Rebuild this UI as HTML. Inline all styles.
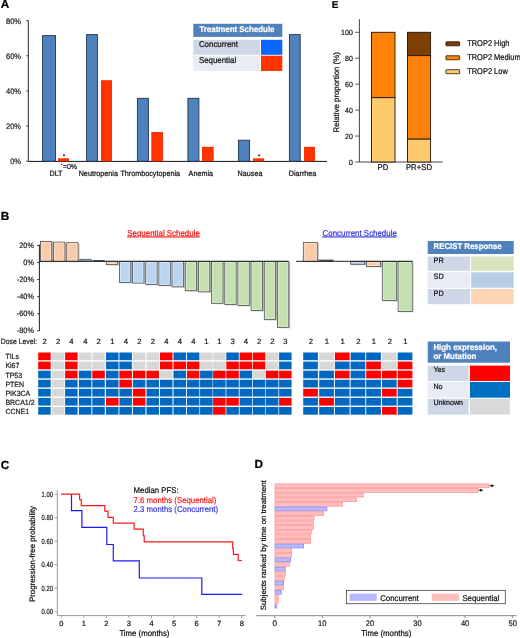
<!DOCTYPE html>
<html><head><meta charset="utf-8"><style>
html,body{margin:0;padding:0;background:#fff;width:520px;height:638px;overflow:hidden;}
svg{display:block;will-change:transform;filter:blur(0.3px);}
text{font-family:"Liberation Sans", sans-serif;text-rendering:geometricPrecision;}
</style></head><body>
<svg width="520" height="638" viewBox="0 0 520 638">
<rect x="0" y="0" width="520" height="638" fill="#fff"/>
<text x="0.80" y="8.00" font-size="11.77" fill="#000" stroke="#000" stroke-width="0.22" font-weight="bold" >A</text>
<line x1="28.30" y1="20.30" x2="28.30" y2="161.40" stroke="#2a2a2a" stroke-width="1.0"/>
<line x1="28.30" y1="161.40" x2="327.00" y2="161.40" stroke="#111" stroke-width="1"/>
<line x1="26.00" y1="20.61" x2="28.30" y2="20.61" stroke="#3a3a3a" stroke-width="0.8"/>
<text x="21.00" y="23.61" font-size="8.03" fill="#222" stroke="#222" stroke-width="0.22" text-anchor="end" textLength="15.01" lengthAdjust="spacingAndGlyphs" >80%</text>
<line x1="26.00" y1="55.77" x2="28.30" y2="55.77" stroke="#3a3a3a" stroke-width="0.8"/>
<text x="21.00" y="58.77" font-size="8.03" fill="#222" stroke="#222" stroke-width="0.22" text-anchor="end" textLength="15.01" lengthAdjust="spacingAndGlyphs" >60%</text>
<line x1="26.00" y1="90.93" x2="28.30" y2="90.93" stroke="#3a3a3a" stroke-width="0.8"/>
<text x="21.00" y="93.93" font-size="8.03" fill="#222" stroke="#222" stroke-width="0.22" text-anchor="end" textLength="15.01" lengthAdjust="spacingAndGlyphs" >40%</text>
<line x1="26.00" y1="126.09" x2="28.30" y2="126.09" stroke="#3a3a3a" stroke-width="0.8"/>
<text x="21.00" y="129.09" font-size="8.03" fill="#222" stroke="#222" stroke-width="0.22" text-anchor="end" textLength="15.01" lengthAdjust="spacingAndGlyphs" >20%</text>
<line x1="26.00" y1="161.25" x2="28.30" y2="161.25" stroke="#3a3a3a" stroke-width="0.8"/>
<text x="21.00" y="164.25" font-size="8.03" fill="#222" stroke="#222" stroke-width="0.22" text-anchor="end" textLength="10.84" lengthAdjust="spacingAndGlyphs" >0%</text>
<rect x="42.60" y="35.60" width="12.90" height="125.65" fill="#4F81BD" stroke="#1f3550" stroke-width="0.9" />
<rect x="86.60" y="34.60" width="10.80" height="126.65" fill="#4F81BD" stroke="#1f3550" stroke-width="0.9" />
<rect x="137.40" y="98.30" width="11.00" height="62.95" fill="#4F81BD" stroke="#1f3550" stroke-width="0.9" />
<rect x="187.90" y="98.30" width="11.00" height="62.95" fill="#4F81BD" stroke="#1f3550" stroke-width="0.9" />
<rect x="238.40" y="140.20" width="11.20" height="21.05" fill="#4F81BD" stroke="#1f3550" stroke-width="0.9" />
<rect x="289.40" y="34.60" width="10.80" height="126.65" fill="#4F81BD" stroke="#1f3550" stroke-width="0.9" />
<rect x="58.00" y="158.20" width="11.00" height="3.05" fill="#FF3300" />
<rect x="100.90" y="80.20" width="11.10" height="81.05" fill="#FF3300" />
<rect x="151.30" y="132.00" width="11.70" height="29.25" fill="#FF3300" />
<rect x="202.00" y="146.80" width="11.70" height="14.45" fill="#FF3300" />
<rect x="253.00" y="158.30" width="11.00" height="2.95" fill="#FF3300" />
<rect x="304.00" y="146.80" width="11.00" height="14.45" fill="#FF3300" />
<circle cx="64" cy="155.2" r="0.95" fill="#111"/>
<circle cx="259.2" cy="155.4" r="0.95" fill="#111"/>
<circle cx="61.6" cy="164.5" r="0.75" fill="#222"/>
<text x="62.90" y="168.80" font-size="7.49" fill="#222" stroke="#222" stroke-width="0.22" textLength="14.21" lengthAdjust="spacingAndGlyphs" >=0%</text>
<text x="56.00" y="176.20" font-size="7.70" fill="#111" stroke="#111" stroke-width="0.22" text-anchor="middle" textLength="13.07" lengthAdjust="spacingAndGlyphs" >DLT</text>
<text x="98.30" y="176.20" font-size="7.70" fill="#111" stroke="#111" stroke-width="0.22" text-anchor="middle" textLength="39.23" lengthAdjust="spacingAndGlyphs" >Neutropenia</text>
<text x="150.20" y="176.20" font-size="7.70" fill="#111" stroke="#111" stroke-width="0.22" text-anchor="middle" textLength="59.63" lengthAdjust="spacingAndGlyphs" >Thrombocytopenia</text>
<text x="200.80" y="176.20" font-size="7.70" fill="#111" stroke="#111" stroke-width="0.22" text-anchor="middle" textLength="24.41" lengthAdjust="spacingAndGlyphs" >Anemia</text>
<text x="250.00" y="176.20" font-size="7.70" fill="#111" stroke="#111" stroke-width="0.22" text-anchor="middle" textLength="24.82" lengthAdjust="spacingAndGlyphs" >Nausea</text>
<text x="302.50" y="176.20" font-size="7.70" fill="#111" stroke="#111" stroke-width="0.22" text-anchor="middle" textLength="27.61" lengthAdjust="spacingAndGlyphs" >Diarrhea</text>
<rect x="193.30" y="23.80" width="89.00" height="13.10" fill="#4F81BD" />
<text x="199.40" y="32.10" font-size="8.45" fill="#fff" stroke="#fff" stroke-width="0.22" font-weight="bold" textLength="75.08" lengthAdjust="spacingAndGlyphs" >Treatment Schedule</text>
<rect x="193.30" y="39.80" width="66.60" height="15.00" fill="#CFD7E6" />
<rect x="261.00" y="39.80" width="21.30" height="15.00" fill="#0B66FF" />
<rect x="193.30" y="55.70" width="66.60" height="15.30" fill="#E8ECF4" />
<rect x="261.00" y="55.70" width="21.30" height="15.30" fill="#FF3300" />
<text x="198.90" y="46.90" font-size="8.45" fill="#111" stroke="#111" stroke-width="0.22" textLength="39.08" lengthAdjust="spacingAndGlyphs" >Concurrent</text>
<text x="198.90" y="63.40" font-size="8.45" fill="#111" stroke="#111" stroke-width="0.22" textLength="37.34" lengthAdjust="spacingAndGlyphs" >Sequential</text>
<text x="331.80" y="8.20" font-size="9.95" fill="#000" stroke="#000" stroke-width="0.22" font-weight="bold" >E</text>
<line x1="359.40" y1="19.20" x2="359.40" y2="162.00" stroke="#444" stroke-width="1"/>
<line x1="359.40" y1="162.00" x2="442.70" y2="162.00" stroke="#444" stroke-width="1"/>
<line x1="355.20" y1="162.00" x2="359.40" y2="162.00" stroke="#444" stroke-width="0.9"/>
<text x="352.80" y="164.50" font-size="7.49" fill="#222" stroke="#222" stroke-width="0.22" text-anchor="end" >0</text>
<line x1="355.20" y1="136.06" x2="359.40" y2="136.06" stroke="#444" stroke-width="0.9"/>
<text x="352.80" y="138.56" font-size="7.49" fill="#222" stroke="#222" stroke-width="0.22" text-anchor="end" textLength="7.79" lengthAdjust="spacingAndGlyphs" >20</text>
<line x1="355.20" y1="110.12" x2="359.40" y2="110.12" stroke="#444" stroke-width="0.9"/>
<text x="352.80" y="112.62" font-size="7.49" fill="#222" stroke="#222" stroke-width="0.22" text-anchor="end" textLength="7.79" lengthAdjust="spacingAndGlyphs" >40</text>
<line x1="355.20" y1="84.18" x2="359.40" y2="84.18" stroke="#444" stroke-width="0.9"/>
<text x="352.80" y="86.68" font-size="7.49" fill="#222" stroke="#222" stroke-width="0.22" text-anchor="end" textLength="7.79" lengthAdjust="spacingAndGlyphs" >60</text>
<line x1="355.20" y1="58.24" x2="359.40" y2="58.24" stroke="#444" stroke-width="0.9"/>
<text x="352.80" y="60.74" font-size="7.49" fill="#222" stroke="#222" stroke-width="0.22" text-anchor="end" textLength="7.79" lengthAdjust="spacingAndGlyphs" >80</text>
<line x1="355.20" y1="32.30" x2="359.40" y2="32.30" stroke="#444" stroke-width="0.9"/>
<text x="352.80" y="34.80" font-size="7.49" fill="#222" stroke="#222" stroke-width="0.22" text-anchor="end" textLength="11.68" lengthAdjust="spacingAndGlyphs" >100</text>
<rect x="371.50" y="32.30" width="23.50" height="65.40" fill="#FF8208" stroke="#1e1408" stroke-width="0.9" />
<rect x="371.50" y="97.70" width="23.50" height="64.30" fill="#FDCB6E" stroke="#1e1408" stroke-width="0.9" />
<rect x="407.50" y="32.30" width="23.10" height="23.35" fill="#7F3F02" stroke="#1e1408" stroke-width="0.9" />
<rect x="407.50" y="55.65" width="23.10" height="83.53" fill="#FF8208" stroke="#1e1408" stroke-width="0.9" />
<rect x="407.50" y="139.17" width="23.10" height="22.83" fill="#FDCB6E" stroke="#1e1408" stroke-width="0.9" />
<text x="383.00" y="170.20" font-size="8.35" fill="#111" stroke="#111" stroke-width="0.22" text-anchor="middle" textLength="10.84" lengthAdjust="spacingAndGlyphs" >PD</text>
<text x="419.00" y="170.20" font-size="8.35" fill="#111" stroke="#111" stroke-width="0.22" text-anchor="middle" textLength="26.23" lengthAdjust="spacingAndGlyphs" >PR+SD</text>
<rect x="445.90" y="41.80" width="13.80" height="4.00" fill="#7F3F02" stroke="#1e1408" stroke-width="0.8" rx="0.6"/>
<text x="467.20" y="46.40" font-size="8.45" fill="#111" stroke="#111" stroke-width="0.22" textLength="42.23" lengthAdjust="spacingAndGlyphs" >TROP2 High</text>
<rect x="445.90" y="55.75" width="13.80" height="4.00" fill="#FF8208" stroke="#1e1408" stroke-width="0.8" rx="0.6"/>
<text x="467.20" y="60.35" font-size="8.45" fill="#111" stroke="#111" stroke-width="0.22" textLength="53.41" lengthAdjust="spacingAndGlyphs" >TROP2 Medium</text>
<rect x="445.90" y="69.70" width="13.80" height="4.00" fill="#FDCB6E" stroke="#1e1408" stroke-width="0.8" rx="0.6"/>
<text x="467.20" y="74.30" font-size="8.45" fill="#111" stroke="#111" stroke-width="0.22" textLength="40.58" lengthAdjust="spacingAndGlyphs" >TROP2 Low</text>
<text transform="translate(339.3,92.4) rotate(-90)" font-size="8.0" fill="#111" stroke="#111" stroke-width="0.22" text-anchor="middle" textLength="80.3" lengthAdjust="spacingAndGlyphs">Relative proportion (%)</text>
<text x="0.80" y="220.20" font-size="11.77" fill="#000" stroke="#000" stroke-width="0.22" font-weight="bold" >B</text>
<text x="127.30" y="235.50" font-size="8.45" fill="#FF1010" stroke="#FF1010" stroke-width="0.22" textLength="72.48" lengthAdjust="spacingAndGlyphs" text-decoration="underline">Sequential Schedule</text>
<text x="322.60" y="235.50" font-size="8.45" fill="#3535E0" stroke="#3535E0" stroke-width="0.22" textLength="74.22" lengthAdjust="spacingAndGlyphs" text-decoration="underline">Concurrent Schedule</text>
<line x1="39.40" y1="244.60" x2="39.40" y2="331.00" stroke="#222" stroke-width="1"/>
<line x1="37.20" y1="245.40" x2="39.40" y2="245.40" stroke="#222" stroke-width="0.9"/>
<text x="33.90" y="247.90" font-size="7.81" fill="#222" stroke="#222" stroke-width="0.22" text-anchor="end" textLength="14.61" lengthAdjust="spacingAndGlyphs" >20%</text>
<line x1="37.20" y1="262.48" x2="39.40" y2="262.48" stroke="#222" stroke-width="0.9"/>
<text x="33.90" y="264.98" font-size="7.81" fill="#222" stroke="#222" stroke-width="0.22" text-anchor="end" textLength="10.55" lengthAdjust="spacingAndGlyphs" >0%</text>
<line x1="37.20" y1="279.56" x2="39.40" y2="279.56" stroke="#222" stroke-width="0.9"/>
<text x="33.90" y="282.06" font-size="7.81" fill="#222" stroke="#222" stroke-width="0.22" text-anchor="end" textLength="17.04" lengthAdjust="spacingAndGlyphs" >-20%</text>
<line x1="37.20" y1="296.64" x2="39.40" y2="296.64" stroke="#222" stroke-width="0.9"/>
<text x="33.90" y="299.14" font-size="7.81" fill="#222" stroke="#222" stroke-width="0.22" text-anchor="end" textLength="17.04" lengthAdjust="spacingAndGlyphs" >-40%</text>
<line x1="37.20" y1="313.72" x2="39.40" y2="313.72" stroke="#222" stroke-width="0.9"/>
<text x="33.90" y="316.22" font-size="7.81" fill="#222" stroke="#222" stroke-width="0.22" text-anchor="end" textLength="17.04" lengthAdjust="spacingAndGlyphs" >-60%</text>
<line x1="37.20" y1="330.80" x2="39.40" y2="330.80" stroke="#222" stroke-width="0.9"/>
<text x="33.90" y="333.30" font-size="7.81" fill="#222" stroke="#222" stroke-width="0.22" text-anchor="end" textLength="17.04" lengthAdjust="spacingAndGlyphs" >-80%</text>
<rect x="52.00" y="242.30" width="1.10" height="19.90" fill="#b4b4b4" />
<rect x="41.20" y="261.60" width="11.90" height="0.60" fill="#c8c8c8" />
<rect x="40.40" y="241.50" width="11.30" height="19.80" fill="#F9CBAA" stroke="#4a4f56" stroke-width="0.8" />
<rect x="41.40" y="242.50" width="9.30" height="17.80" fill="none" stroke="#FDE0CC" stroke-width="0.7"/>
<rect x="65.17" y="242.90" width="1.10" height="19.30" fill="#b4b4b4" />
<rect x="54.37" y="261.60" width="11.90" height="0.60" fill="#c8c8c8" />
<rect x="53.57" y="242.10" width="11.30" height="19.20" fill="#F9CBAA" stroke="#4a4f56" stroke-width="0.8" />
<rect x="54.57" y="243.10" width="9.30" height="17.20" fill="none" stroke="#FDE0CC" stroke-width="0.7"/>
<rect x="78.34" y="243.50" width="1.10" height="18.70" fill="#b4b4b4" />
<rect x="67.54" y="261.60" width="11.90" height="0.60" fill="#c8c8c8" />
<rect x="66.74" y="242.70" width="11.30" height="18.60" fill="#F9CBAA" stroke="#4a4f56" stroke-width="0.8" />
<rect x="67.74" y="243.70" width="9.30" height="16.60" fill="none" stroke="#FDE0CC" stroke-width="0.7"/>
<rect x="79.91" y="259.30" width="11.30" height="2.00" fill="#9FB8D6" stroke="#4a4f56" stroke-width="0.8" />
<rect x="93.08" y="260.40" width="11.30" height="0.90" fill="#333" stroke="#4a4f56" stroke-width="0.8" />
<rect x="117.85" y="262.10" width="1.10" height="3.40" fill="#b4b4b4" />
<rect x="107.05" y="264.90" width="11.90" height="0.60" fill="#c8c8c8" />
<rect x="106.25" y="261.30" width="11.30" height="3.30" fill="#F9CBAA" stroke="#4a4f56" stroke-width="0.8" />
<rect x="107.25" y="262.30" width="9.30" height="1.30" fill="none" stroke="#FDE0CC" stroke-width="0.7"/>
<rect x="131.02" y="262.10" width="1.10" height="21.20" fill="#b4b4b4" />
<rect x="120.22" y="282.70" width="11.90" height="0.60" fill="#c8c8c8" />
<rect x="119.42" y="261.30" width="11.30" height="21.10" fill="#BCD4EE" stroke="#4a4f56" stroke-width="0.8" />
<rect x="120.42" y="262.30" width="9.30" height="19.10" fill="none" stroke="#D8EAFA" stroke-width="0.7"/>
<rect x="144.19" y="262.10" width="1.10" height="21.80" fill="#b4b4b4" />
<rect x="133.39" y="283.30" width="11.90" height="0.60" fill="#c8c8c8" />
<rect x="132.59" y="261.30" width="11.30" height="21.70" fill="#BCD4EE" stroke="#4a4f56" stroke-width="0.8" />
<rect x="133.59" y="262.30" width="9.30" height="19.70" fill="none" stroke="#D8EAFA" stroke-width="0.7"/>
<rect x="157.36" y="262.10" width="1.10" height="23.30" fill="#b4b4b4" />
<rect x="146.56" y="284.80" width="11.90" height="0.60" fill="#c8c8c8" />
<rect x="145.76" y="261.30" width="11.30" height="23.20" fill="#BCD4EE" stroke="#4a4f56" stroke-width="0.8" />
<rect x="146.76" y="262.30" width="9.30" height="21.20" fill="none" stroke="#D8EAFA" stroke-width="0.7"/>
<rect x="170.53" y="262.10" width="1.10" height="24.20" fill="#b4b4b4" />
<rect x="159.73" y="285.70" width="11.90" height="0.60" fill="#c8c8c8" />
<rect x="158.93" y="261.30" width="11.30" height="24.10" fill="#BCD4EE" stroke="#4a4f56" stroke-width="0.8" />
<rect x="159.93" y="262.30" width="9.30" height="22.10" fill="none" stroke="#D8EAFA" stroke-width="0.7"/>
<rect x="183.70" y="262.10" width="1.10" height="25.60" fill="#b4b4b4" />
<rect x="172.90" y="287.10" width="11.90" height="0.60" fill="#c8c8c8" />
<rect x="172.10" y="261.30" width="11.30" height="25.50" fill="#BCD4EE" stroke="#4a4f56" stroke-width="0.8" />
<rect x="173.10" y="262.30" width="9.30" height="23.50" fill="none" stroke="#D8EAFA" stroke-width="0.7"/>
<rect x="196.87" y="262.10" width="1.10" height="29.50" fill="#b4b4b4" />
<rect x="186.07" y="291.00" width="11.90" height="0.60" fill="#c8c8c8" />
<rect x="185.27" y="261.30" width="11.30" height="29.40" fill="#C4DFB0" stroke="#4a4f56" stroke-width="0.8" />
<rect x="186.27" y="262.30" width="9.30" height="27.40" fill="none" stroke="#DAEECB" stroke-width="0.7"/>
<rect x="210.04" y="262.10" width="1.10" height="30.60" fill="#b4b4b4" />
<rect x="199.24" y="292.10" width="11.90" height="0.60" fill="#c8c8c8" />
<rect x="198.44" y="261.30" width="11.30" height="30.50" fill="#C4DFB0" stroke="#4a4f56" stroke-width="0.8" />
<rect x="199.44" y="262.30" width="9.30" height="28.50" fill="none" stroke="#DAEECB" stroke-width="0.7"/>
<rect x="223.21" y="262.10" width="1.10" height="42.10" fill="#b4b4b4" />
<rect x="212.41" y="303.60" width="11.90" height="0.60" fill="#c8c8c8" />
<rect x="211.61" y="261.30" width="11.30" height="42.00" fill="#C4DFB0" stroke="#4a4f56" stroke-width="0.8" />
<rect x="212.61" y="262.30" width="9.30" height="40.00" fill="none" stroke="#DAEECB" stroke-width="0.7"/>
<rect x="236.38" y="262.10" width="1.10" height="43.30" fill="#b4b4b4" />
<rect x="225.58" y="304.80" width="11.90" height="0.60" fill="#c8c8c8" />
<rect x="224.78" y="261.30" width="11.30" height="43.20" fill="#C4DFB0" stroke="#4a4f56" stroke-width="0.8" />
<rect x="225.78" y="262.30" width="9.30" height="41.20" fill="none" stroke="#DAEECB" stroke-width="0.7"/>
<rect x="249.55" y="262.10" width="1.10" height="44.30" fill="#b4b4b4" />
<rect x="238.75" y="305.80" width="11.90" height="0.60" fill="#c8c8c8" />
<rect x="237.95" y="261.30" width="11.30" height="44.20" fill="#C4DFB0" stroke="#4a4f56" stroke-width="0.8" />
<rect x="238.95" y="262.30" width="9.30" height="42.20" fill="none" stroke="#DAEECB" stroke-width="0.7"/>
<rect x="262.72" y="262.10" width="1.10" height="49.30" fill="#b4b4b4" />
<rect x="251.92" y="310.80" width="11.90" height="0.60" fill="#c8c8c8" />
<rect x="251.12" y="261.30" width="11.30" height="49.20" fill="#C4DFB0" stroke="#4a4f56" stroke-width="0.8" />
<rect x="252.12" y="262.30" width="9.30" height="47.20" fill="none" stroke="#DAEECB" stroke-width="0.7"/>
<rect x="275.89" y="262.10" width="1.10" height="58.40" fill="#b4b4b4" />
<rect x="265.09" y="319.90" width="11.90" height="0.60" fill="#c8c8c8" />
<rect x="264.29" y="261.30" width="11.30" height="58.30" fill="#C4DFB0" stroke="#4a4f56" stroke-width="0.8" />
<rect x="265.29" y="262.30" width="9.30" height="56.30" fill="none" stroke="#DAEECB" stroke-width="0.7"/>
<rect x="289.06" y="262.10" width="1.10" height="66.20" fill="#b4b4b4" />
<rect x="278.26" y="327.70" width="11.90" height="0.60" fill="#c8c8c8" />
<rect x="277.46" y="261.30" width="11.30" height="66.10" fill="#C4DFB0" stroke="#4a4f56" stroke-width="0.8" />
<rect x="278.46" y="262.30" width="9.30" height="64.10" fill="none" stroke="#DAEECB" stroke-width="0.7"/>
<line x1="39.40" y1="261.30" x2="288.20" y2="261.30" stroke="#222" stroke-width="1"/>
<rect x="317.60" y="243.30" width="1.10" height="18.90" fill="#b4b4b4" />
<rect x="304.10" y="261.60" width="14.60" height="0.60" fill="#c8c8c8" />
<rect x="303.30" y="242.50" width="14.00" height="18.80" fill="#F9CBAA" stroke="#4a4f56" stroke-width="0.8" />
<rect x="304.30" y="243.50" width="12.00" height="16.80" fill="none" stroke="#FDE0CC" stroke-width="0.7"/>
<rect x="319.10" y="260.00" width="14.00" height="1.30" fill="#8a5a3a" stroke="#4a4f56" stroke-width="0.8" />
<rect x="365.00" y="262.10" width="1.10" height="3.10" fill="#b4b4b4" />
<rect x="351.50" y="264.60" width="14.60" height="0.60" fill="#c8c8c8" />
<rect x="350.70" y="261.30" width="14.00" height="3.00" fill="#BCD4EE" stroke="#4a4f56" stroke-width="0.8" />
<rect x="380.80" y="262.10" width="1.10" height="5.30" fill="#b4b4b4" />
<rect x="367.30" y="266.80" width="14.60" height="0.60" fill="#c8c8c8" />
<rect x="366.50" y="261.30" width="14.00" height="5.20" fill="#F9CBAA" stroke="#4a4f56" stroke-width="0.8" />
<rect x="367.50" y="262.30" width="12.00" height="3.20" fill="none" stroke="#FDE0CC" stroke-width="0.7"/>
<rect x="396.60" y="262.10" width="1.10" height="39.30" fill="#b4b4b4" />
<rect x="383.10" y="300.80" width="14.60" height="0.60" fill="#c8c8c8" />
<rect x="382.30" y="261.30" width="14.00" height="39.20" fill="#C4DFB0" stroke="#4a4f56" stroke-width="0.8" />
<rect x="383.30" y="262.30" width="12.00" height="37.20" fill="none" stroke="#DAEECB" stroke-width="0.7"/>
<rect x="412.40" y="262.10" width="1.10" height="50.20" fill="#b4b4b4" />
<rect x="398.90" y="311.70" width="14.60" height="0.60" fill="#c8c8c8" />
<rect x="398.10" y="261.30" width="14.00" height="50.10" fill="#C4DFB0" stroke="#4a4f56" stroke-width="0.8" />
<rect x="399.10" y="262.30" width="12.00" height="48.10" fill="none" stroke="#DAEECB" stroke-width="0.7"/>
<line x1="296.10" y1="261.30" x2="412.40" y2="261.30" stroke="#222" stroke-width="1"/>
<text x="0.80" y="344.40" font-size="7.70" fill="#222" stroke="#222" stroke-width="0.22" textLength="36.20" lengthAdjust="spacingAndGlyphs" >Dose Level:</text>
<text x="44.60" y="344.40" font-size="7.70" fill="#222" stroke="#222" stroke-width="0.22" text-anchor="middle" >2</text>
<text x="58.20" y="344.40" font-size="7.70" fill="#222" stroke="#222" stroke-width="0.22" text-anchor="middle" >2</text>
<text x="71.50" y="344.40" font-size="7.70" fill="#222" stroke="#222" stroke-width="0.22" text-anchor="middle" >4</text>
<text x="85.30" y="344.40" font-size="7.70" fill="#222" stroke="#222" stroke-width="0.22" text-anchor="middle" >4</text>
<text x="98.70" y="344.40" font-size="7.70" fill="#222" stroke="#222" stroke-width="0.22" text-anchor="middle" >2</text>
<text x="112.40" y="344.40" font-size="7.70" fill="#222" stroke="#222" stroke-width="0.22" text-anchor="middle" >1</text>
<text x="125.80" y="344.40" font-size="7.70" fill="#222" stroke="#222" stroke-width="0.22" text-anchor="middle" >4</text>
<text x="139.30" y="344.40" font-size="7.70" fill="#222" stroke="#222" stroke-width="0.22" text-anchor="middle" >2</text>
<text x="152.90" y="344.40" font-size="7.70" fill="#222" stroke="#222" stroke-width="0.22" text-anchor="middle" >2</text>
<text x="166.40" y="344.40" font-size="7.70" fill="#222" stroke="#222" stroke-width="0.22" text-anchor="middle" >4</text>
<text x="179.90" y="344.40" font-size="7.70" fill="#222" stroke="#222" stroke-width="0.22" text-anchor="middle" >4</text>
<text x="193.30" y="344.40" font-size="7.70" fill="#222" stroke="#222" stroke-width="0.22" text-anchor="middle" >4</text>
<text x="206.50" y="344.40" font-size="7.70" fill="#222" stroke="#222" stroke-width="0.22" text-anchor="middle" >1</text>
<text x="219.50" y="344.40" font-size="7.70" fill="#222" stroke="#222" stroke-width="0.22" text-anchor="middle" >1</text>
<text x="232.70" y="344.40" font-size="7.70" fill="#222" stroke="#222" stroke-width="0.22" text-anchor="middle" >3</text>
<text x="246.00" y="344.40" font-size="7.70" fill="#222" stroke="#222" stroke-width="0.22" text-anchor="middle" >4</text>
<text x="259.20" y="344.40" font-size="7.70" fill="#222" stroke="#222" stroke-width="0.22" text-anchor="middle" >2</text>
<text x="272.30" y="344.40" font-size="7.70" fill="#222" stroke="#222" stroke-width="0.22" text-anchor="middle" >2</text>
<text x="285.50" y="344.40" font-size="7.70" fill="#222" stroke="#222" stroke-width="0.22" text-anchor="middle" >3</text>
<text x="311.00" y="344.40" font-size="7.70" fill="#222" stroke="#222" stroke-width="0.22" text-anchor="middle" >2</text>
<text x="327.00" y="344.40" font-size="7.70" fill="#222" stroke="#222" stroke-width="0.22" text-anchor="middle" >1</text>
<text x="342.70" y="344.40" font-size="7.70" fill="#222" stroke="#222" stroke-width="0.22" text-anchor="middle" >1</text>
<text x="358.40" y="344.40" font-size="7.70" fill="#222" stroke="#222" stroke-width="0.22" text-anchor="middle" >2</text>
<text x="374.00" y="344.40" font-size="7.70" fill="#222" stroke="#222" stroke-width="0.22" text-anchor="middle" >1</text>
<text x="389.80" y="344.40" font-size="7.70" fill="#222" stroke="#222" stroke-width="0.22" text-anchor="middle" >2</text>
<text x="405.50" y="344.40" font-size="7.70" fill="#222" stroke="#222" stroke-width="0.22" text-anchor="middle" >1</text>
<rect x="38.20" y="352.50" width="12.50" height="7.70" fill="#FF0000" />
<rect x="38.20" y="361.58" width="12.50" height="7.70" fill="#FF0000" />
<rect x="38.20" y="370.66" width="12.50" height="7.70" fill="#0068C0" />
<rect x="38.20" y="379.74" width="12.50" height="7.70" fill="#0068C0" />
<rect x="38.20" y="388.82" width="12.50" height="7.70" fill="#0068C0" />
<rect x="38.20" y="397.90" width="12.50" height="7.70" fill="#0068C0" />
<rect x="38.20" y="406.98" width="12.50" height="7.70" fill="#0068C0" />
<rect x="51.80" y="352.50" width="12.50" height="7.70" fill="#D7D7D7" />
<rect x="51.80" y="361.58" width="12.50" height="7.70" fill="#D7D7D7" />
<rect x="51.80" y="370.66" width="12.50" height="7.70" fill="#D7D7D7" />
<rect x="51.80" y="379.74" width="12.50" height="7.70" fill="#D7D7D7" />
<rect x="51.80" y="388.82" width="12.50" height="7.70" fill="#D7D7D7" />
<rect x="51.80" y="397.90" width="12.50" height="7.70" fill="#D7D7D7" />
<rect x="51.80" y="406.98" width="12.50" height="7.70" fill="#D7D7D7" />
<rect x="65.10" y="352.50" width="12.50" height="7.70" fill="#FF0000" />
<rect x="65.10" y="361.58" width="12.50" height="7.70" fill="#FF0000" />
<rect x="65.10" y="370.66" width="12.50" height="7.70" fill="#FF0000" />
<rect x="65.10" y="379.74" width="12.50" height="7.70" fill="#0068C0" />
<rect x="65.10" y="388.82" width="12.50" height="7.70" fill="#0068C0" />
<rect x="65.10" y="397.90" width="12.50" height="7.70" fill="#0068C0" />
<rect x="65.10" y="406.98" width="12.50" height="7.70" fill="#0068C0" />
<rect x="78.90" y="352.50" width="12.50" height="7.70" fill="#D7D7D7" />
<rect x="78.90" y="361.58" width="12.50" height="7.70" fill="#D7D7D7" />
<rect x="78.90" y="370.66" width="12.50" height="7.70" fill="#0068C0" />
<rect x="78.90" y="379.74" width="12.50" height="7.70" fill="#0068C0" />
<rect x="78.90" y="388.82" width="12.50" height="7.70" fill="#0068C0" />
<rect x="78.90" y="397.90" width="12.50" height="7.70" fill="#0068C0" />
<rect x="78.90" y="406.98" width="12.50" height="7.70" fill="#0068C0" />
<rect x="92.30" y="352.50" width="12.50" height="7.70" fill="#D7D7D7" />
<rect x="92.30" y="361.58" width="12.50" height="7.70" fill="#D7D7D7" />
<rect x="92.30" y="370.66" width="12.50" height="7.70" fill="#FF0000" />
<rect x="92.30" y="379.74" width="12.50" height="7.70" fill="#0068C0" />
<rect x="92.30" y="388.82" width="12.50" height="7.70" fill="#0068C0" />
<rect x="92.30" y="397.90" width="12.50" height="7.70" fill="#0068C0" />
<rect x="92.30" y="406.98" width="12.50" height="7.70" fill="#0068C0" />
<rect x="106.00" y="352.50" width="12.50" height="7.70" fill="#0068C0" />
<rect x="106.00" y="361.58" width="12.50" height="7.70" fill="#0068C0" />
<rect x="106.00" y="370.66" width="12.50" height="7.70" fill="#0068C0" />
<rect x="106.00" y="379.74" width="12.50" height="7.70" fill="#0068C0" />
<rect x="106.00" y="388.82" width="12.50" height="7.70" fill="#0068C0" />
<rect x="106.00" y="397.90" width="12.50" height="7.70" fill="#FF0000" />
<rect x="106.00" y="406.98" width="12.50" height="7.70" fill="#0068C0" />
<rect x="119.40" y="352.50" width="12.50" height="7.70" fill="#0068C0" />
<rect x="119.40" y="361.58" width="12.50" height="7.70" fill="#0068C0" />
<rect x="119.40" y="370.66" width="12.50" height="7.70" fill="#FF0000" />
<rect x="119.40" y="379.74" width="12.50" height="7.70" fill="#FF0000" />
<rect x="119.40" y="388.82" width="12.50" height="7.70" fill="#0068C0" />
<rect x="119.40" y="397.90" width="12.50" height="7.70" fill="#0068C0" />
<rect x="119.40" y="406.98" width="12.50" height="7.70" fill="#0068C0" />
<rect x="132.90" y="352.50" width="12.50" height="7.70" fill="#D7D7D7" />
<rect x="132.90" y="361.58" width="12.50" height="7.70" fill="#D7D7D7" />
<rect x="132.90" y="370.66" width="12.50" height="7.70" fill="#FF0000" />
<rect x="132.90" y="379.74" width="12.50" height="7.70" fill="#0068C0" />
<rect x="132.90" y="388.82" width="12.50" height="7.70" fill="#FF0000" />
<rect x="132.90" y="397.90" width="12.50" height="7.70" fill="#FF0000" />
<rect x="132.90" y="406.98" width="12.50" height="7.70" fill="#0068C0" />
<rect x="146.50" y="352.50" width="12.50" height="7.70" fill="#D7D7D7" />
<rect x="146.50" y="361.58" width="12.50" height="7.70" fill="#D7D7D7" />
<rect x="146.50" y="370.66" width="12.50" height="7.70" fill="#FF0000" />
<rect x="146.50" y="379.74" width="12.50" height="7.70" fill="#0068C0" />
<rect x="146.50" y="388.82" width="12.50" height="7.70" fill="#0068C0" />
<rect x="146.50" y="397.90" width="12.50" height="7.70" fill="#0068C0" />
<rect x="146.50" y="406.98" width="12.50" height="7.70" fill="#0068C0" />
<rect x="160.00" y="352.50" width="12.50" height="7.70" fill="#FF0000" />
<rect x="160.00" y="361.58" width="12.50" height="7.70" fill="#FF0000" />
<rect x="160.00" y="370.66" width="12.50" height="7.70" fill="#D7D7D7" />
<rect x="160.00" y="379.74" width="12.50" height="7.70" fill="#0068C0" />
<rect x="160.00" y="388.82" width="12.50" height="7.70" fill="#0068C0" />
<rect x="160.00" y="397.90" width="12.50" height="7.70" fill="#0068C0" />
<rect x="160.00" y="406.98" width="12.50" height="7.70" fill="#0068C0" />
<rect x="173.50" y="352.50" width="12.50" height="7.70" fill="#0068C0" />
<rect x="173.50" y="361.58" width="12.50" height="7.70" fill="#FF0000" />
<rect x="173.50" y="370.66" width="12.50" height="7.70" fill="#0068C0" />
<rect x="173.50" y="379.74" width="12.50" height="7.70" fill="#0068C0" />
<rect x="173.50" y="388.82" width="12.50" height="7.70" fill="#0068C0" />
<rect x="173.50" y="397.90" width="12.50" height="7.70" fill="#0068C0" />
<rect x="173.50" y="406.98" width="12.50" height="7.70" fill="#0068C0" />
<rect x="186.90" y="352.50" width="12.50" height="7.70" fill="#0068C0" />
<rect x="186.90" y="361.58" width="12.50" height="7.70" fill="#FF0000" />
<rect x="186.90" y="370.66" width="12.50" height="7.70" fill="#FF0000" />
<rect x="186.90" y="379.74" width="12.50" height="7.70" fill="#0068C0" />
<rect x="186.90" y="388.82" width="12.50" height="7.70" fill="#0068C0" />
<rect x="186.90" y="397.90" width="12.50" height="7.70" fill="#0068C0" />
<rect x="186.90" y="406.98" width="12.50" height="7.70" fill="#0068C0" />
<rect x="200.10" y="352.50" width="12.50" height="7.70" fill="#D7D7D7" />
<rect x="200.10" y="361.58" width="12.50" height="7.70" fill="#D7D7D7" />
<rect x="200.10" y="370.66" width="12.50" height="7.70" fill="#0068C0" />
<rect x="200.10" y="379.74" width="12.50" height="7.70" fill="#0068C0" />
<rect x="200.10" y="388.82" width="12.50" height="7.70" fill="#0068C0" />
<rect x="200.10" y="397.90" width="12.50" height="7.70" fill="#0068C0" />
<rect x="200.10" y="406.98" width="12.50" height="7.70" fill="#0068C0" />
<rect x="213.10" y="352.50" width="12.50" height="7.70" fill="#D7D7D7" />
<rect x="213.10" y="361.58" width="12.50" height="7.70" fill="#D7D7D7" />
<rect x="213.10" y="370.66" width="12.50" height="7.70" fill="#FF0000" />
<rect x="213.10" y="379.74" width="12.50" height="7.70" fill="#0068C0" />
<rect x="213.10" y="388.82" width="12.50" height="7.70" fill="#0068C0" />
<rect x="213.10" y="397.90" width="12.50" height="7.70" fill="#FF0000" />
<rect x="213.10" y="406.98" width="12.50" height="7.70" fill="#FF0000" />
<rect x="226.30" y="352.50" width="12.50" height="7.70" fill="#0068C0" />
<rect x="226.30" y="361.58" width="12.50" height="7.70" fill="#FF0000" />
<rect x="226.30" y="370.66" width="12.50" height="7.70" fill="#FF0000" />
<rect x="226.30" y="379.74" width="12.50" height="7.70" fill="#0068C0" />
<rect x="226.30" y="388.82" width="12.50" height="7.70" fill="#0068C0" />
<rect x="226.30" y="397.90" width="12.50" height="7.70" fill="#FF0000" />
<rect x="226.30" y="406.98" width="12.50" height="7.70" fill="#0068C0" />
<rect x="239.60" y="352.50" width="12.50" height="7.70" fill="#FF0000" />
<rect x="239.60" y="361.58" width="12.50" height="7.70" fill="#FF0000" />
<rect x="239.60" y="370.66" width="12.50" height="7.70" fill="#0068C0" />
<rect x="239.60" y="379.74" width="12.50" height="7.70" fill="#0068C0" />
<rect x="239.60" y="388.82" width="12.50" height="7.70" fill="#0068C0" />
<rect x="239.60" y="397.90" width="12.50" height="7.70" fill="#0068C0" />
<rect x="239.60" y="406.98" width="12.50" height="7.70" fill="#0068C0" />
<rect x="252.80" y="352.50" width="12.50" height="7.70" fill="#FF0000" />
<rect x="252.80" y="361.58" width="12.50" height="7.70" fill="#FF0000" />
<rect x="252.80" y="370.66" width="12.50" height="7.70" fill="#D7D7D7" />
<rect x="252.80" y="379.74" width="12.50" height="7.70" fill="#0068C0" />
<rect x="252.80" y="388.82" width="12.50" height="7.70" fill="#0068C0" />
<rect x="252.80" y="397.90" width="12.50" height="7.70" fill="#0068C0" />
<rect x="252.80" y="406.98" width="12.50" height="7.70" fill="#0068C0" />
<rect x="265.90" y="352.50" width="12.50" height="7.70" fill="#D7D7D7" />
<rect x="265.90" y="361.58" width="12.50" height="7.70" fill="#D7D7D7" />
<rect x="265.90" y="370.66" width="12.50" height="7.70" fill="#FF0000" />
<rect x="265.90" y="379.74" width="12.50" height="7.70" fill="#0068C0" />
<rect x="265.90" y="388.82" width="12.50" height="7.70" fill="#0068C0" />
<rect x="265.90" y="397.90" width="12.50" height="7.70" fill="#0068C0" />
<rect x="265.90" y="406.98" width="12.50" height="7.70" fill="#0068C0" />
<rect x="279.10" y="352.50" width="12.50" height="7.70" fill="#0068C0" />
<rect x="279.10" y="361.58" width="12.50" height="7.70" fill="#0068C0" />
<rect x="279.10" y="370.66" width="12.50" height="7.70" fill="#FF0000" />
<rect x="279.10" y="379.74" width="12.50" height="7.70" fill="#0068C0" />
<rect x="279.10" y="388.82" width="12.50" height="7.70" fill="#0068C0" />
<rect x="279.10" y="397.90" width="12.50" height="7.70" fill="#FF0000" />
<rect x="279.10" y="406.98" width="12.50" height="7.70" fill="#0068C0" />
<rect x="303.20" y="352.50" width="14.70" height="7.70" fill="#0068C0" />
<rect x="303.20" y="361.58" width="14.70" height="7.70" fill="#0068C0" />
<rect x="303.20" y="370.66" width="14.70" height="7.70" fill="#0068C0" />
<rect x="303.20" y="379.74" width="14.70" height="7.70" fill="#0068C0" />
<rect x="303.20" y="388.82" width="14.70" height="7.70" fill="#FF0000" />
<rect x="303.20" y="397.90" width="14.70" height="7.70" fill="#0068C0" />
<rect x="303.20" y="406.98" width="14.70" height="7.70" fill="#0068C0" />
<rect x="319.20" y="352.50" width="14.70" height="7.70" fill="#D7D7D7" />
<rect x="319.20" y="361.58" width="14.70" height="7.70" fill="#D7D7D7" />
<rect x="319.20" y="370.66" width="14.70" height="7.70" fill="#0068C0" />
<rect x="319.20" y="379.74" width="14.70" height="7.70" fill="#0068C0" />
<rect x="319.20" y="388.82" width="14.70" height="7.70" fill="#0068C0" />
<rect x="319.20" y="397.90" width="14.70" height="7.70" fill="#FF0000" />
<rect x="319.20" y="406.98" width="14.70" height="7.70" fill="#0068C0" />
<rect x="334.90" y="352.50" width="14.70" height="7.70" fill="#FF0000" />
<rect x="334.90" y="361.58" width="14.70" height="7.70" fill="#0068C0" />
<rect x="334.90" y="370.66" width="14.70" height="7.70" fill="#FF0000" />
<rect x="334.90" y="379.74" width="14.70" height="7.70" fill="#0068C0" />
<rect x="334.90" y="388.82" width="14.70" height="7.70" fill="#0068C0" />
<rect x="334.90" y="397.90" width="14.70" height="7.70" fill="#0068C0" />
<rect x="334.90" y="406.98" width="14.70" height="7.70" fill="#0068C0" />
<rect x="350.60" y="352.50" width="14.70" height="7.70" fill="#0068C0" />
<rect x="350.60" y="361.58" width="14.70" height="7.70" fill="#0068C0" />
<rect x="350.60" y="370.66" width="14.70" height="7.70" fill="#0068C0" />
<rect x="350.60" y="379.74" width="14.70" height="7.70" fill="#0068C0" />
<rect x="350.60" y="388.82" width="14.70" height="7.70" fill="#0068C0" />
<rect x="350.60" y="397.90" width="14.70" height="7.70" fill="#0068C0" />
<rect x="350.60" y="406.98" width="14.70" height="7.70" fill="#0068C0" />
<rect x="366.20" y="352.50" width="14.70" height="7.70" fill="#0068C0" />
<rect x="366.20" y="361.58" width="14.70" height="7.70" fill="#FF0000" />
<rect x="366.20" y="370.66" width="14.70" height="7.70" fill="#FF0000" />
<rect x="366.20" y="379.74" width="14.70" height="7.70" fill="#0068C0" />
<rect x="366.20" y="388.82" width="14.70" height="7.70" fill="#0068C0" />
<rect x="366.20" y="397.90" width="14.70" height="7.70" fill="#0068C0" />
<rect x="366.20" y="406.98" width="14.70" height="7.70" fill="#0068C0" />
<rect x="382.00" y="352.50" width="14.70" height="7.70" fill="#D7D7D7" />
<rect x="382.00" y="361.58" width="14.70" height="7.70" fill="#D7D7D7" />
<rect x="382.00" y="370.66" width="14.70" height="7.70" fill="#FF0000" />
<rect x="382.00" y="379.74" width="14.70" height="7.70" fill="#0068C0" />
<rect x="382.00" y="388.82" width="14.70" height="7.70" fill="#FF0000" />
<rect x="382.00" y="397.90" width="14.70" height="7.70" fill="#0068C0" />
<rect x="382.00" y="406.98" width="14.70" height="7.70" fill="#FF0000" />
<rect x="397.70" y="352.50" width="14.70" height="7.70" fill="#0068C0" />
<rect x="397.70" y="361.58" width="14.70" height="7.70" fill="#FF0000" />
<rect x="397.70" y="370.66" width="14.70" height="7.70" fill="#FF0000" />
<rect x="397.70" y="379.74" width="14.70" height="7.70" fill="#FF0000" />
<rect x="397.70" y="388.82" width="14.70" height="7.70" fill="#0068C0" />
<rect x="397.70" y="397.90" width="14.70" height="7.70" fill="#0068C0" />
<rect x="397.70" y="406.98" width="14.70" height="7.70" fill="#0068C0" />
<text x="5.40" y="359.30" font-size="7.49" fill="#222" stroke="#222" stroke-width="0.22" textLength="13.61" lengthAdjust="spacingAndGlyphs" >TILs</text>
<text x="5.40" y="368.43" font-size="7.49" fill="#222" stroke="#222" stroke-width="0.22" textLength="14.01" lengthAdjust="spacingAndGlyphs" >Ki67</text>
<text x="5.40" y="377.56" font-size="7.49" fill="#222" stroke="#222" stroke-width="0.22" textLength="16.73" lengthAdjust="spacingAndGlyphs" >TP53</text>
<text x="5.40" y="386.69" font-size="7.49" fill="#222" stroke="#222" stroke-width="0.22" textLength="18.67" lengthAdjust="spacingAndGlyphs" >PTEN</text>
<text x="5.40" y="395.82" font-size="7.49" fill="#222" stroke="#222" stroke-width="0.22" textLength="24.90" lengthAdjust="spacingAndGlyphs" >PIK3CA</text>
<text x="5.40" y="404.95" font-size="7.49" fill="#222" stroke="#222" stroke-width="0.22" textLength="29.18" lengthAdjust="spacingAndGlyphs" >BRCA1/2</text>
<text x="5.40" y="414.08" font-size="7.49" fill="#222" stroke="#222" stroke-width="0.22" textLength="23.73" lengthAdjust="spacingAndGlyphs" >CCNE1</text>
<rect x="427.70" y="241.00" width="86.00" height="13.00" fill="#4F81BD" />
<text x="433.60" y="248.90" font-size="8.45" fill="#fff" stroke="#fff" stroke-width="0.22" font-weight="bold" textLength="68.00" lengthAdjust="spacingAndGlyphs" >RECIST Response</text>
<rect x="427.70" y="256.50" width="42.50" height="14.30" fill="#CFD7E6" />
<rect x="471.20" y="256.50" width="42.50" height="14.30" fill="#D7E4BD" />
<text x="433.60" y="263.10" font-size="7.81" fill="#111" stroke="#111" stroke-width="0.22" textLength="10.14" lengthAdjust="spacingAndGlyphs" >PR</text>
<rect x="427.70" y="272.30" width="42.50" height="15.40" fill="#E8ECF4" />
<rect x="471.20" y="272.30" width="42.50" height="15.40" fill="#B9CDE5" />
<text x="433.60" y="278.90" font-size="7.81" fill="#111" stroke="#111" stroke-width="0.22" textLength="10.14" lengthAdjust="spacingAndGlyphs" >SD</text>
<rect x="427.70" y="289.00" width="42.50" height="15.20" fill="#CFD7E6" />
<rect x="471.20" y="289.00" width="42.50" height="15.20" fill="#FCD5B5" />
<text x="433.60" y="295.60" font-size="7.81" fill="#111" stroke="#111" stroke-width="0.22" textLength="10.14" lengthAdjust="spacingAndGlyphs" >PD</text>
<rect x="427.70" y="341.50" width="82.30" height="21.20" fill="#4F81BD" />
<text x="433.40" y="349.50" font-size="8.45" fill="#fff" stroke="#fff" stroke-width="0.22" font-weight="bold" textLength="63.66" lengthAdjust="spacingAndGlyphs" >High expression,</text>
<text x="433.40" y="359.00" font-size="8.45" fill="#fff" stroke="#fff" stroke-width="0.22" font-weight="bold" textLength="43.00" lengthAdjust="spacingAndGlyphs" >or Mutation</text>
<rect x="427.70" y="365.60" width="40.90" height="15.40" fill="#CFD7E6" />
<rect x="469.90" y="365.60" width="40.10" height="15.40" fill="#FF0000" />
<text x="433.40" y="372.20" font-size="7.60" fill="#111" stroke="#111" stroke-width="0.22" textLength="11.58" lengthAdjust="spacingAndGlyphs" >Yes</text>
<rect x="427.70" y="382.00" width="40.90" height="15.70" fill="#E8ECF4" />
<rect x="469.90" y="382.00" width="40.10" height="15.70" fill="#0070C0" />
<text x="433.40" y="388.60" font-size="7.60" fill="#111" stroke="#111" stroke-width="0.22" textLength="9.08" lengthAdjust="spacingAndGlyphs" >No</text>
<rect x="427.70" y="398.80" width="40.90" height="15.80" fill="#CFD7E6" />
<rect x="469.90" y="398.80" width="40.10" height="15.80" fill="#D9D9D9" />
<text x="433.40" y="405.40" font-size="7.60" fill="#111" stroke="#111" stroke-width="0.22" textLength="29.60" lengthAdjust="spacingAndGlyphs" >Unknown</text>
<text x="0.80" y="468.80" font-size="11.77" fill="#000" stroke="#000" stroke-width="0.22" font-weight="bold" >C</text>
<line x1="57.30" y1="490.20" x2="57.30" y2="615.60" stroke="#9a9a9a" stroke-width="1"/>
<line x1="57.30" y1="615.60" x2="245.80" y2="615.60" stroke="#9a9a9a" stroke-width="1"/>
<line x1="54.50" y1="494.20" x2="57.30" y2="494.20" stroke="#9a9a9a" stroke-width="0.9"/>
<text x="52.90" y="496.70" font-size="7.49" fill="#222" stroke="#222" stroke-width="0.22" text-anchor="end" textLength="11.3" lengthAdjust="spacingAndGlyphs">1.00</text>
<line x1="54.50" y1="517.71" x2="57.30" y2="517.71" stroke="#9a9a9a" stroke-width="0.9"/>
<text x="52.90" y="520.21" font-size="7.49" fill="#222" stroke="#222" stroke-width="0.22" text-anchor="end" textLength="11.3" lengthAdjust="spacingAndGlyphs">0.80</text>
<line x1="54.50" y1="541.22" x2="57.30" y2="541.22" stroke="#9a9a9a" stroke-width="0.9"/>
<text x="52.90" y="543.72" font-size="7.49" fill="#222" stroke="#222" stroke-width="0.22" text-anchor="end" textLength="11.3" lengthAdjust="spacingAndGlyphs">0.60</text>
<line x1="54.50" y1="564.73" x2="57.30" y2="564.73" stroke="#9a9a9a" stroke-width="0.9"/>
<text x="52.90" y="567.23" font-size="7.49" fill="#222" stroke="#222" stroke-width="0.22" text-anchor="end" textLength="11.3" lengthAdjust="spacingAndGlyphs">0.40</text>
<line x1="54.50" y1="588.24" x2="57.30" y2="588.24" stroke="#9a9a9a" stroke-width="0.9"/>
<text x="52.90" y="590.74" font-size="7.49" fill="#222" stroke="#222" stroke-width="0.22" text-anchor="end" textLength="11.3" lengthAdjust="spacingAndGlyphs">0.20</text>
<line x1="54.50" y1="611.75" x2="57.30" y2="611.75" stroke="#9a9a9a" stroke-width="0.9"/>
<text x="52.90" y="614.25" font-size="7.49" fill="#222" stroke="#222" stroke-width="0.22" text-anchor="end" textLength="11.3" lengthAdjust="spacingAndGlyphs">0.00</text>
<line x1="61.25" y1="615.60" x2="61.25" y2="618.00" stroke="#9a9a9a" stroke-width="0.9"/>
<text x="61.25" y="625.50" font-size="7.49" fill="#222" stroke="#222" stroke-width="0.22" text-anchor="middle" >0</text>
<line x1="83.81" y1="615.60" x2="83.81" y2="618.00" stroke="#9a9a9a" stroke-width="0.9"/>
<text x="83.81" y="625.50" font-size="7.49" fill="#222" stroke="#222" stroke-width="0.22" text-anchor="middle" >1</text>
<line x1="106.37" y1="615.60" x2="106.37" y2="618.00" stroke="#9a9a9a" stroke-width="0.9"/>
<text x="106.37" y="625.50" font-size="7.49" fill="#222" stroke="#222" stroke-width="0.22" text-anchor="middle" >2</text>
<line x1="128.93" y1="615.60" x2="128.93" y2="618.00" stroke="#9a9a9a" stroke-width="0.9"/>
<text x="128.93" y="625.50" font-size="7.49" fill="#222" stroke="#222" stroke-width="0.22" text-anchor="middle" >3</text>
<line x1="151.49" y1="615.60" x2="151.49" y2="618.00" stroke="#9a9a9a" stroke-width="0.9"/>
<text x="151.49" y="625.50" font-size="7.49" fill="#222" stroke="#222" stroke-width="0.22" text-anchor="middle" >4</text>
<line x1="174.05" y1="615.60" x2="174.05" y2="618.00" stroke="#9a9a9a" stroke-width="0.9"/>
<text x="174.05" y="625.50" font-size="7.49" fill="#222" stroke="#222" stroke-width="0.22" text-anchor="middle" >5</text>
<line x1="196.61" y1="615.60" x2="196.61" y2="618.00" stroke="#9a9a9a" stroke-width="0.9"/>
<text x="196.61" y="625.50" font-size="7.49" fill="#222" stroke="#222" stroke-width="0.22" text-anchor="middle" >6</text>
<line x1="219.17" y1="615.60" x2="219.17" y2="618.00" stroke="#9a9a9a" stroke-width="0.9"/>
<text x="219.17" y="625.50" font-size="7.49" fill="#222" stroke="#222" stroke-width="0.22" text-anchor="middle" >7</text>
<line x1="241.73" y1="615.60" x2="241.73" y2="618.00" stroke="#9a9a9a" stroke-width="0.9"/>
<text x="241.73" y="625.50" font-size="7.49" fill="#222" stroke="#222" stroke-width="0.22" text-anchor="middle" >8</text>
<text x="144.40" y="636.20" font-size="8.35" fill="#111" stroke="#111" stroke-width="0.22" text-anchor="middle" textLength="49.99" lengthAdjust="spacingAndGlyphs" >Time (months)</text>
<text transform="translate(35.1,554.0) rotate(-90)" font-size="8.0" fill="#111" stroke="#111" stroke-width="0.22" text-anchor="middle" textLength="96.0" lengthAdjust="spacingAndGlyphs">Progression-free probability</text>
<text x="133.60" y="493.30" font-size="8.35" fill="#111" stroke="#111" stroke-width="0.22" textLength="45.09" lengthAdjust="spacingAndGlyphs" >Median PFS:</text>
<text x="133.60" y="502.50" font-size="8.35" fill="#FF1a1a" stroke="#FF1a1a" stroke-width="0.22" textLength="82.82" lengthAdjust="spacingAndGlyphs" >7.6 months (Sequential)</text>
<text x="133.60" y="511.80" font-size="8.35" fill="#3a3aee" stroke="#3a3aee" stroke-width="0.22" textLength="84.54" lengthAdjust="spacingAndGlyphs" >2.3 months (Concurrent)</text>
<path d="M71.5,494.2 V510.6 H81.9 V527.3 H106.8 V544.5 H113.3 V560.8 H139.3 V578 H201.8 V594.3 H242.2" fill="none" stroke="#1a1aff" stroke-width="1.2"/>
<path d="M61,494.2 H79.6 V499.6 H81.3 V505.6 H104.8 V511.1 H108 V517.3 H113.3 V523.2 H134.1 V529.1 H143.3 V535.6 H144.2 V541.9 H232.7 V548.3 H233.4 V554.3 H238.2 V560.5 H242.0" fill="none" stroke="#ff1a1a" stroke-width="1.2"/>
<text x="254.60" y="468.40" font-size="11.77" fill="#000" stroke="#000" stroke-width="0.22" font-weight="bold" >D</text>
<line x1="256.00" y1="615.70" x2="516.50" y2="615.70" stroke="#888" stroke-width="1"/>
<line x1="274.70" y1="615.70" x2="274.70" y2="618.20" stroke="#888" stroke-width="0.9"/>
<text x="274.70" y="625.60" font-size="8.13" fill="#222" stroke="#222" stroke-width="0.22" text-anchor="middle" >0</text>
<line x1="322.30" y1="615.70" x2="322.30" y2="618.20" stroke="#888" stroke-width="0.9"/>
<text x="322.30" y="625.60" font-size="8.13" fill="#222" stroke="#222" stroke-width="0.22" text-anchor="middle" textLength="8.45" lengthAdjust="spacingAndGlyphs" >10</text>
<line x1="369.90" y1="615.70" x2="369.90" y2="618.20" stroke="#888" stroke-width="0.9"/>
<text x="369.90" y="625.60" font-size="8.13" fill="#222" stroke="#222" stroke-width="0.22" text-anchor="middle" textLength="8.45" lengthAdjust="spacingAndGlyphs" >20</text>
<line x1="417.50" y1="615.70" x2="417.50" y2="618.20" stroke="#888" stroke-width="0.9"/>
<text x="417.50" y="625.60" font-size="8.13" fill="#222" stroke="#222" stroke-width="0.22" text-anchor="middle" textLength="8.45" lengthAdjust="spacingAndGlyphs" >30</text>
<line x1="465.10" y1="615.70" x2="465.10" y2="618.20" stroke="#888" stroke-width="0.9"/>
<text x="465.10" y="625.60" font-size="8.13" fill="#222" stroke="#222" stroke-width="0.22" text-anchor="middle" textLength="8.45" lengthAdjust="spacingAndGlyphs" >40</text>
<line x1="512.70" y1="615.70" x2="512.70" y2="618.20" stroke="#888" stroke-width="0.9"/>
<text x="512.70" y="625.60" font-size="8.13" fill="#222" stroke="#222" stroke-width="0.22" text-anchor="middle" textLength="8.45" lengthAdjust="spacingAndGlyphs" >50</text>
<text x="386.30" y="635.80" font-size="8.35" fill="#111" stroke="#111" stroke-width="0.22" text-anchor="middle" textLength="49.99" lengthAdjust="spacingAndGlyphs" >Time (months)</text>
<text transform="translate(266.4,545.3) rotate(-90)" font-size="7.6" fill="#111" stroke="#111" stroke-width="0.22" text-anchor="middle" textLength="130.0" lengthAdjust="spacingAndGlyphs">Subjects ranked by time on treatment</text>
<rect x="275.00" y="483.90" width="214.00" height="3.83" fill="#FFBFBF" stroke="#FF9999" stroke-width="0.8" />
<rect x="275.00" y="488.53" width="203.00" height="3.83" fill="#FFBFBF" stroke="#FF9999" stroke-width="0.8" />
<rect x="275.00" y="493.16" width="88.40" height="3.83" fill="#FFBFBF" stroke="#FF9999" stroke-width="0.8" />
<rect x="275.00" y="497.79" width="81.40" height="3.83" fill="#FFBFBF" stroke="#FF9999" stroke-width="0.8" />
<rect x="275.00" y="502.42" width="67.50" height="3.83" fill="#FFBFBF" stroke="#FF9999" stroke-width="0.8" />
<rect x="275.00" y="507.05" width="51.90" height="3.83" fill="#B8B8FF" stroke="#8C8CFF" stroke-width="0.8" />
<rect x="275.00" y="511.68" width="48.50" height="3.83" fill="#FFBFBF" stroke="#FF9999" stroke-width="0.8" />
<rect x="275.00" y="516.31" width="39.00" height="3.83" fill="#FFBFBF" stroke="#FF9999" stroke-width="0.8" />
<rect x="275.00" y="520.94" width="38.30" height="3.83" fill="#FFBFBF" stroke="#FF9999" stroke-width="0.8" />
<rect x="275.00" y="525.57" width="38.30" height="3.83" fill="#FFBFBF" stroke="#FF9999" stroke-width="0.8" />
<rect x="275.00" y="530.20" width="36.30" height="3.83" fill="#FFBFBF" stroke="#FF9999" stroke-width="0.8" />
<rect x="275.00" y="534.83" width="35.60" height="3.83" fill="#FFBFBF" stroke="#FF9999" stroke-width="0.8" />
<rect x="275.00" y="539.46" width="35.40" height="3.83" fill="#FFBFBF" stroke="#FF9999" stroke-width="0.8" />
<rect x="275.00" y="544.09" width="28.60" height="3.83" fill="#B8B8FF" stroke="#8C8CFF" stroke-width="0.8" />
<rect x="275.00" y="548.72" width="16.60" height="3.83" fill="#FFBFBF" stroke="#FF9999" stroke-width="0.8" />
<rect x="275.00" y="553.35" width="16.60" height="3.83" fill="#FFBFBF" stroke="#FF9999" stroke-width="0.8" />
<rect x="275.00" y="557.98" width="15.60" height="3.83" fill="#B8B8FF" stroke="#8C8CFF" stroke-width="0.8" />
<rect x="275.00" y="562.61" width="14.40" height="3.83" fill="#FFBFBF" stroke="#FF9999" stroke-width="0.8" />
<rect x="275.00" y="567.24" width="10.30" height="3.83" fill="#B8B8FF" stroke="#8C8CFF" stroke-width="0.8" />
<rect x="275.00" y="571.87" width="10.30" height="3.83" fill="#FFBFBF" stroke="#FF9999" stroke-width="0.8" />
<rect x="275.00" y="576.50" width="9.30" height="3.83" fill="#FFBFBF" stroke="#FF9999" stroke-width="0.8" />
<rect x="275.00" y="581.13" width="8.60" height="3.83" fill="#B8B8FF" stroke="#8C8CFF" stroke-width="0.8" />
<rect x="275.00" y="585.76" width="8.40" height="3.83" fill="#FFBFBF" stroke="#FF9999" stroke-width="0.8" />
<rect x="275.00" y="590.39" width="6.20" height="3.83" fill="#B8B8FF" stroke="#8C8CFF" stroke-width="0.8" />
<rect x="275.00" y="595.02" width="3.40" height="3.83" fill="#FFBFBF" stroke="#FF9999" stroke-width="0.8" />
<rect x="275.00" y="599.65" width="3.10" height="3.83" fill="#FFBFBF" stroke="#FF9999" stroke-width="0.8" />
<rect x="275.00" y="604.28" width="1.50" height="3.83" fill="#B8B8FF" stroke="#8C8CFF" stroke-width="0.8" />
<path d="M489.4,485.7 H492" stroke="#000" stroke-width="0.8"/><path d="M491.4,484.2 L494.4,485.7 L491.4,487.2 Z" fill="#000"/>
<path d="M478.4,490.2 H481" stroke="#000" stroke-width="0.8"/><path d="M480.2,488.7 L483.2,490.2 L480.2,491.7 Z" fill="#000"/>
<rect x="346.40" y="590.40" width="158.90" height="13.30" fill="#fff" stroke="#444" stroke-width="0.8" />
<rect x="349.50" y="593.60" width="27.20" height="7.30" fill="#B8B8FF" />
<text x="380.20" y="601.00" font-size="8.35" fill="#111" stroke="#111" stroke-width="0.22" textLength="38.59" lengthAdjust="spacingAndGlyphs" >Concurrent</text>
<rect x="431.70" y="593.60" width="27.30" height="7.30" fill="#FFBFBF" />
<text x="462.40" y="601.00" font-size="8.35" fill="#111" stroke="#111" stroke-width="0.22" textLength="36.86" lengthAdjust="spacingAndGlyphs" >Sequential</text>
</svg>
</body></html>
